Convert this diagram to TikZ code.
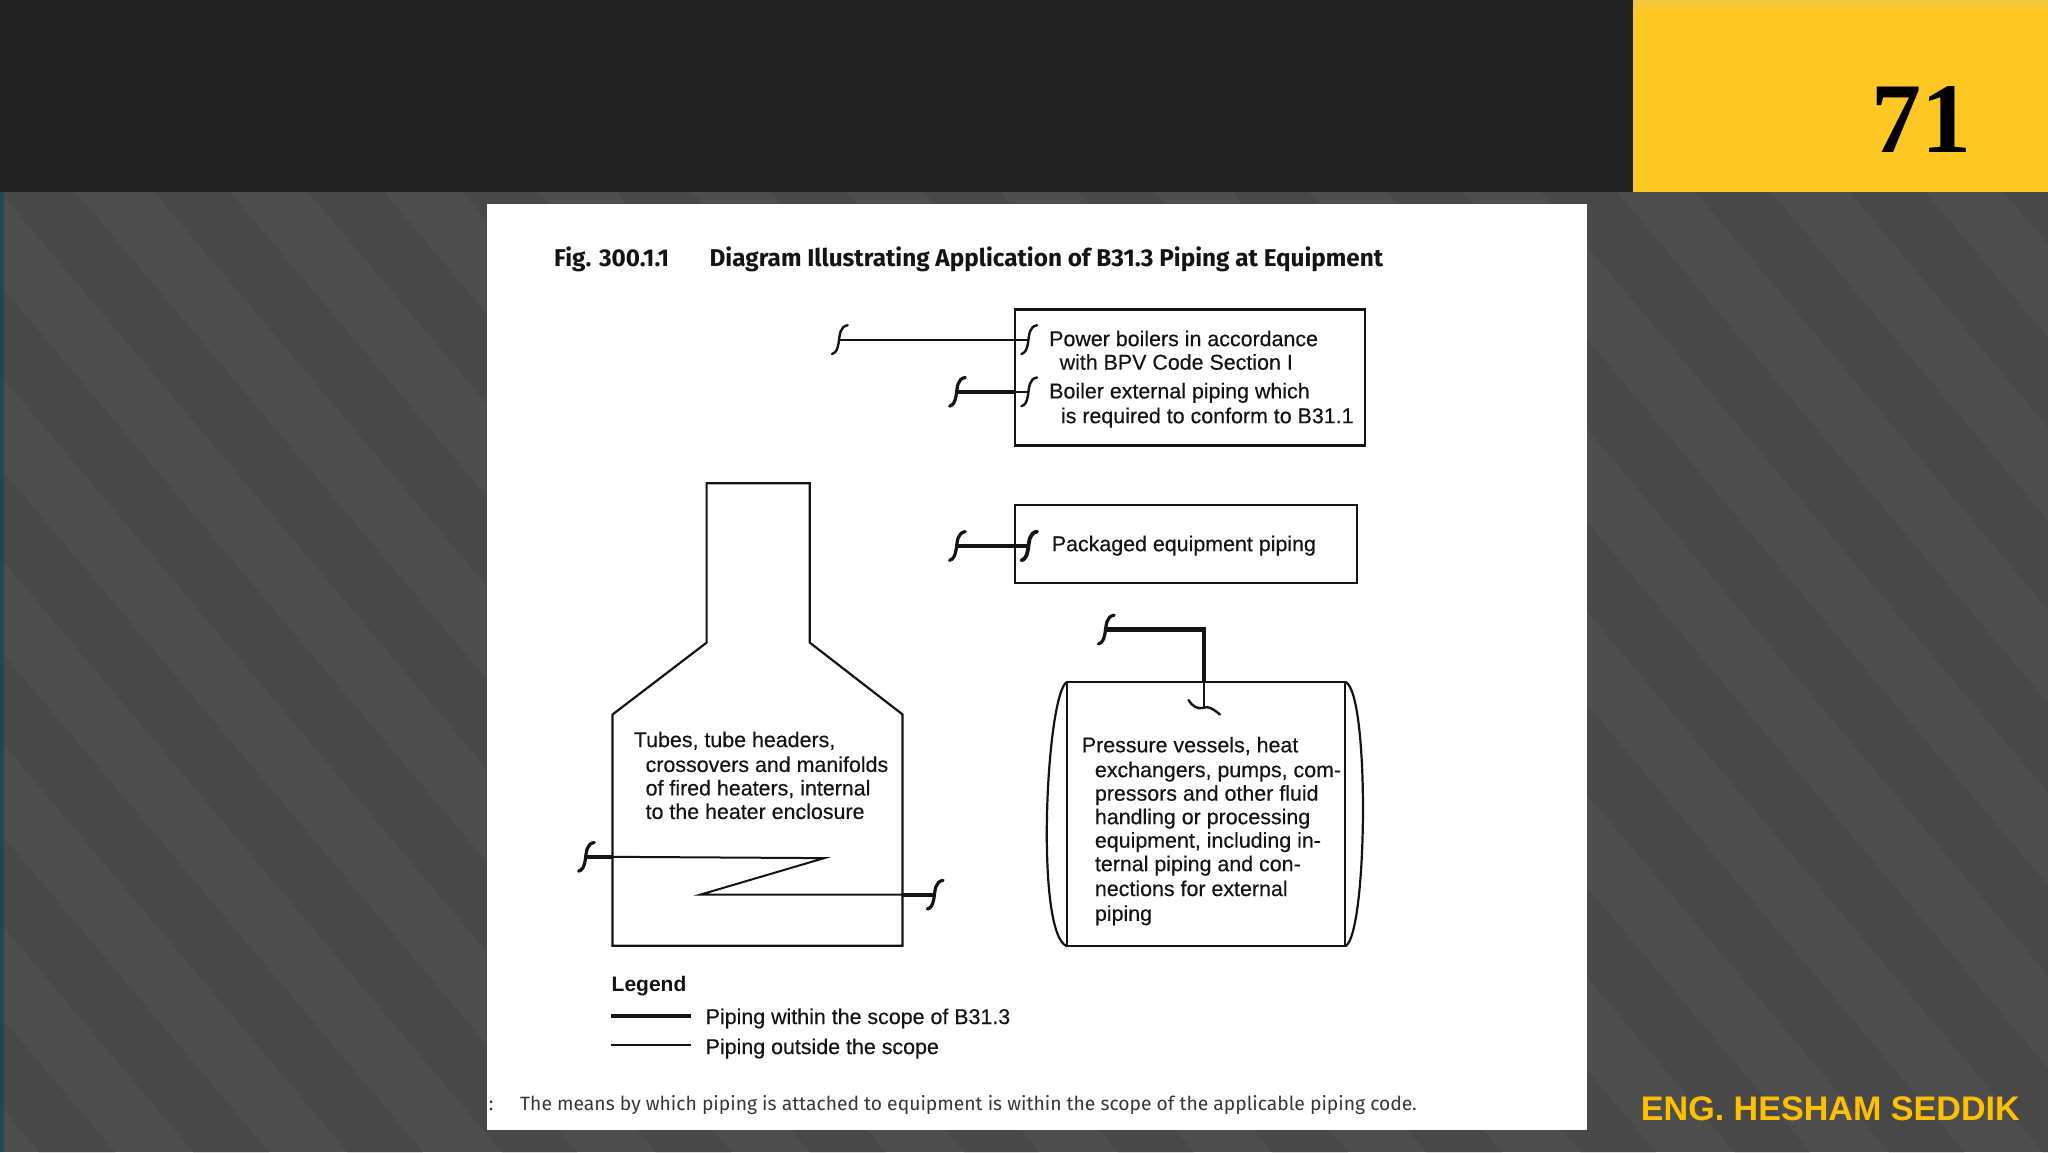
\documentclass[tikz,border=0pt]{standalone}
\usepackage{fontspec}
\setmainfont{Liberation Sans}
\newfontfamily\serifnum{Liberation Serif}
\newfontfamily\titlefont{Fira Sans}
\newfontfamily\bodyfont[FakeBold=0.35]{Liberation Sans}
\definecolor{barcol}{HTML}{222222}
\definecolor{yellowcol}{HTML}{FFC824}
\definecolor{yellowtop}{HTML}{F5C842}
\definecolor{bgA}{HTML}{4E4E4E}
\definecolor{bgB}{HTML}{484848}
\definecolor{sliver}{HTML}{1E4A50}
\definecolor{inkcol}{HTML}{141414}
\definecolor{signcol}{HTML}{FFC000}
\tikzset{
  box/.style={draw=inkcol,line width=1.2pt,inner sep=0pt,fill=none},
  thinpipe/.style={draw=inkcol,line width=1pt},
  thickpipe/.style={draw=inkcol,line width=2.1pt},
  outline/.style={draw=inkcol,line width=1.1pt,line join=miter},
  txt/.style={anchor=base west,inner sep=0pt,text=inkcol,font=\bodyfont\fontsize{10.7}{12}\selectfont},
  squig/.pic={\draw[draw=inkcol,line cap=round,pic actions] (-6,11) .. controls (-3,10) and (-2,8) .. (-1,3) .. controls (0,-4) and (0,-10) .. (6,-11);},
  squigh/.pic={\draw[draw=inkcol,line cap=round,pic actions] (-12,-6) .. controls (-9,-1) and (-5,1) .. (-1,0) .. controls (3,-2) and (7,1) .. (12,5);}
}
\begin{document}
\begin{tikzpicture}[x=0.65306pt,y=-0.65306pt]
\useasboundingbox (0,0) rectangle (1568,882);
% slide background
\fill[bgA] (0,0) rectangle (1568,882);
\begin{scope}
\clip (0,147) rectangle (1568,882);
\foreach \k in {-8,...,13}{
  \fill[bgB] ({\k*118},147) -- ({\k*118+58},147) -- ({\k*118+58+620},882) -- ({\k*118+620},882) -- cycle;
}
\end{scope}
\fill[sliver] (0,147) rectangle (3,882);
\fill[barcol] (0,0) rectangle (1250,147);
\fill[yellowcol] (1250,0) rectangle (1568,147);
\fill[yellowtop] (1250,0) rectangle (1568,5);
\node[anchor=base east,inner sep=0pt,text=black,font=\serifnum\bfseries\fontsize{50}{50}\selectfont] (pagenum) at (1510,117) {71};
\node[anchor=base west,inner sep=0pt,text=signcol,font=\bfseries\fontsize{17.05}{20}\selectfont] (sign) at (1256,858) {ENG. HESHAM SEDDIK};
% white panel
\fill[white] (373,156) rectangle (1215,865);
% title
\node[anchor=base west,inner sep=0pt,text=inkcol,font=\titlefont\bfseries\fontsize{12.15}{13}\selectfont] (figno) at (424,204) {Fig. 300.1.1};
\node[anchor=base west,inner sep=0pt,text=inkcol,font=\titlefont\bfseries\fontsize{12.15}{13}\selectfont] (figtitle) at (543,204) {Diagram Illustrating Application of B31.3 Piping at Equipment};
% boxes
\node[box,minimum width=268*0.65306pt,minimum height=104*0.65306pt] (boxA) at (911,289) {};
\node[box,minimum width=262*0.65306pt,minimum height=59.5*0.65306pt] (boxB) at (908,416.5) {};
% upper texts
\node[txt] (t1) at (803,265) {Power boilers in accordance};
\node[txt] (t2) at (811,283) {with BPV Code Section I};
\node[txt] (t3) at (803,305) {Boiler external piping which};
\node[txt] (t4) at (812,324) {is required to conform to B31.1};
\node[txt] (t5) at (805,422) {Packaged equipment piping};
% heater
\draw[outline] (541,370) -- (620,370) -- (620,492) -- (691,547) -- (691,724) -- (469,724) -- (469,547) -- (541,492) -- cycle;
\node[txt] (h1) at (485,572) {Tubes, tube headers,};
\node[txt] (h2) at (494,591) {crossovers and manifolds};
\node[txt] (h3) at (494,609) {of fired heaters, internal};
\node[txt] (h4) at (494,627) {to the heater enclosure};
% vessel
\coordinate (vTL) at (817,522); \coordinate (vTR) at (1030,522);
\coordinate (vBL) at (817,724.5); \coordinate (vBR) at (1030,724.5);
\draw[outline] (vTL) -- (vTR) -- (vBR) -- (vBL) -- cycle;
\draw[outline] (vTL) .. controls (801,530) and (792,716) .. (vBL);
\draw[outline] (vTR) .. controls (1049,530) and (1047,716) .. (vBR);
\node[txt] (v1) at (828,576) {Pressure vessels, heat};
\node[txt] (v2) at (838,595) {exchangers, pumps, com-};
\node[txt] (v3) at (838,613) {pressors and other fluid};
\node[txt] (v4) at (838,631) {handling or processing};
\node[txt] (v5) at (838,649) {equipment, including in-};
\node[txt] (v6) at (838,667) {ternal piping and con-};
\node[txt] (v7) at (838,686) {nections for external};
\node[txt] (v8) at (838,705) {piping};
% pipes
\coordinate (a1) at (643,260); \coordinate (a2) at (788,260);
\draw[thinpipe] (a1) -- (a2);
\pic[line width=1.2pt] at (a1) {squig};
\pic[line width=1.2pt] at (a2) {squig};
\coordinate (b1) at (733,300); \coordinate (b2) at (777,300); \coordinate (b3) at (788,300);
\draw[thickpipe] (b1) -- (b2);
\draw[thinpipe] (b2) -- (b3);
\pic[line width=1.6pt] at (b1) {squig};
\pic[line width=1.2pt] at (b3) {squig};
\coordinate (c1) at (733,418); \coordinate (c2) at (788,418);
\draw[thickpipe] (c1) -- (c2);
\pic[line width=1.6pt] at (c1) {squig};
\pic[line width=1.9pt] at (c2) {squig};
\coordinate (d1) at (847,482); \coordinate (d2) at (922,482); \coordinate (d3) at (922,522); \coordinate (d4) at (922,542);
\draw[thickpipe,line join=miter] (d1) -- (d2) -- (d3);
\draw[thinpipe] (d3) -- (d4);
\pic[line width=1.6pt] at (d1) {squig};
\pic[line width=1.2pt] at (d4) {squigh};
\coordinate (e1) at (449,656); \coordinate (e2) at (469,656); \coordinate (e3) at (631,657); \coordinate (e4) at (536,685); \coordinate (e5) at (691,685); \coordinate (e6) at (716,685);
\draw[thickpipe] (e1) -- (e2);
\draw[thinpipe,line join=miter] (e2) -- (e3) -- (e4) -- (e5);
\draw[thickpipe] (e5) -- (e6);
\pic[line width=1.6pt] at (e1) {squig};
\pic[line width=1.6pt] at (e6) {squig};
% legend
\node[anchor=base west,inner sep=0pt,text=inkcol,font=\bfseries\fontsize{10.5}{12}\selectfont] (lg) at (468,759) {Legend};
\coordinate (l1) at (468,778); \coordinate (l2) at (529,778);
\coordinate (l3) at (468,800); \coordinate (l4) at (529,800);
\draw[thickpipe] (l1) -- (l2);
\draw[thinpipe] (l3) -- (l4);
\node[txt] (lt1) at (540,784) {Piping within the scope of B31.3};
\node[txt] (lt2) at (540,807) {Piping outside the scope};
% note
\node[anchor=base west,inner sep=0pt,text=inkcol!85,font=\titlefont\fontsize{9.64}{12}\selectfont] (nc) at (374,850) {:};
\node[anchor=base west,inner sep=0pt,text=inkcol!85,font=\titlefont\fontsize{9.64}{12}\selectfont] (note) at (398,850) {The means by which piping is attached to equipment is within the scope of the applicable piping code.};
\end{tikzpicture}
\end{document}
